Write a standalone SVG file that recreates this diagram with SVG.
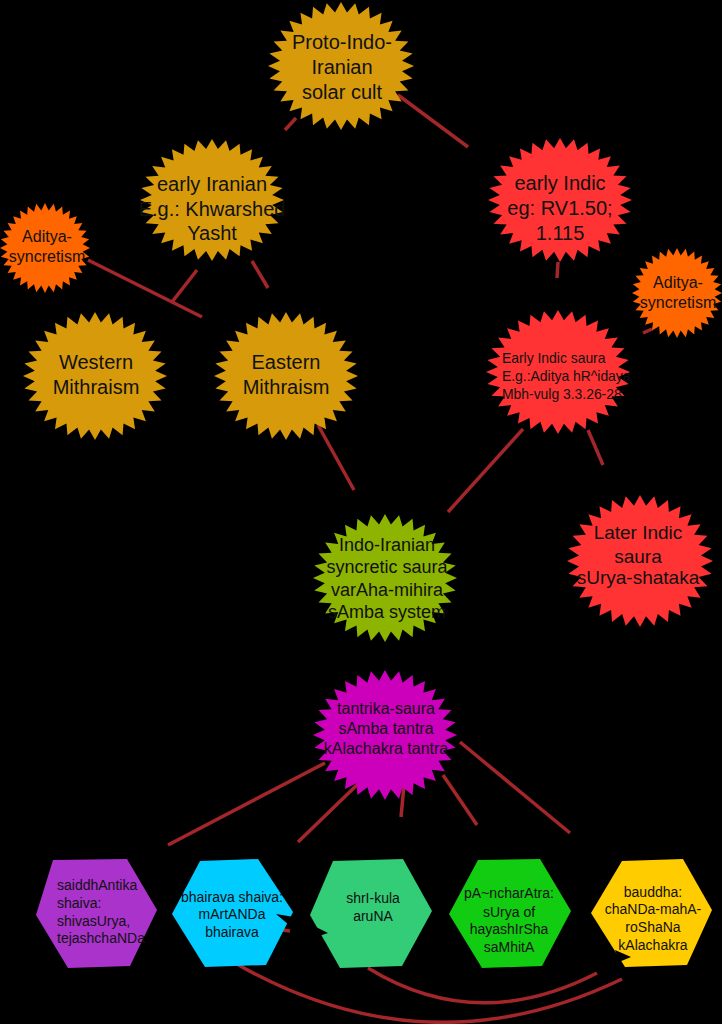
<svg xmlns="http://www.w3.org/2000/svg" xmlns:xlink="http://www.w3.org/1999/xlink" width="722" height="1024" viewBox="0 0 722 1024">
<style>
.t{font-family:"Liberation Sans",Arial,sans-serif;fill:#111;text-anchor:middle}
.l{text-anchor:start}
.c{stroke:#A3262A;stroke-width:3.5;fill:none;stroke-linecap:butt}
.gold{fill:#D69A0A}.red{fill:#FF3333}.org{fill:#FF6600}.olv{fill:#8CB400}.mag{fill:#CC00BB}
</style>
<defs>
<polygon id="star" points="100,0 83.6,8.2 98.1,19.5 80.4,24.4 92.4,38.3 74.1,39.6 83.1,55.6 64.9,53.3 70.7,70.7 53.3,64.9 55.6,83.1 39.6,74.1 38.3,92.4 24.4,80.4 19.5,98.1 8.2,83.6 0,100 -8.2,83.6 -19.5,98.1 -24.4,80.4 -38.3,92.4 -39.6,74.1 -55.6,83.1 -53.3,64.9 -70.7,70.7 -64.9,53.3 -83.1,55.6 -74.1,39.6 -92.4,38.3 -80.4,24.4 -98.1,19.5 -83.6,8.2 -100,0 -83.6,-8.2 -98.1,-19.5 -80.4,-24.4 -92.4,-38.3 -74.1,-39.6 -83.1,-55.6 -64.9,-53.3 -70.7,-70.7 -53.3,-64.9 -55.6,-83.1 -39.6,-74.1 -38.3,-92.4 -24.4,-80.4 -19.5,-98.1 -8.2,-83.6 0,-100 8.2,-83.6 19.5,-98.1 24.4,-80.4 38.3,-92.4 39.6,-74.1 55.6,-83.1 53.3,-64.9 70.7,-70.7 64.9,-53.3 83.1,-55.6 74.1,-39.6 92.4,-38.3 80.4,-24.4 98.1,-19.5 83.6,-8.2"/>
</defs>
<rect width="722" height="1024" fill="#000"/>
<g id="connectors">
<line class="c" x1="296" y1="118" x2="285" y2="130"/>
<line class="c" x1="398" y1="95" x2="468" y2="147"/>
<line class="c" x1="88" y1="260" x2="202" y2="317"/>
<line class="c" x1="197" y1="270" x2="172" y2="302"/>
<line class="c" x1="252" y1="261" x2="268" y2="288"/>
<line class="c" x1="558" y1="262" x2="557" y2="278"/>
<line class="c" x1="652" y1="329" x2="643" y2="333"/>
<line class="c" x1="318" y1="425" x2="354" y2="490"/>
<line class="c" x1="523" y1="429" x2="448" y2="512"/>
<line class="c" x1="588" y1="430" x2="603" y2="465"/>
<line class="c" x1="325" y1="763" x2="168" y2="845"/>
<line class="c" x1="360" y1="782" x2="298" y2="842"/>
<line class="c" x1="404" y1="785" x2="401" y2="817"/>
<line class="c" x1="443" y1="775" x2="477" y2="825"/>
<line class="c" x1="460" y1="742" x2="570" y2="833"/>
<line class="c" x1="283" y1="930" x2="290" y2="931"/>
<path class="c" d="M235,963 Q427,1073 622,979"/>
<path class="c" d="M368,968 Q477,1035 597,973"/>
</g>
<g id="proto"><use xlink:href="#star" href="#star" class="gold" transform="translate(341 66) scale(0.73 0.64)"/>
<text class="t" font-size="20"><tspan x="342" y="49">Proto-Indo-</tspan><tspan x="342" y="74">Iranian</tspan><tspan x="342" y="99">solar cult</tspan></text></g>
<g id="early-iranian"><use xlink:href="#star" href="#star" class="gold" transform="translate(212 200) scale(0.72 0.61)"/>
<text class="t" font-size="20"><tspan x="212" y="191">early Iranian</tspan><tspan x="212" y="216">E.g.: Khwarshed</tspan><tspan x="212" y="240">Yasht</tspan></text></g>
<g id="aditya-left"><use xlink:href="#star" href="#star" class="org" transform="translate(45 248) scale(0.45 0.45)"/>
<text class="t" font-size="16"><tspan x="47" y="242">Aditya-</tspan><tspan x="47" y="262">syncretism</tspan></text></g>
<g id="western"><use xlink:href="#star" href="#star" class="gold" transform="translate(95 376) scale(0.72 0.64)"/>
<text class="t" font-size="20"><tspan x="96" y="369">Western</tspan><tspan x="96" y="394">Mithraism</tspan></text></g>
<g id="eastern"><use xlink:href="#star" href="#star" class="gold" transform="translate(286 376) scale(0.72 0.64)"/>
<text class="t" font-size="20"><tspan x="286" y="369">Eastern</tspan><tspan x="286" y="394">Mithraism</tspan></text></g>
<g id="early-indic"><use xlink:href="#star" href="#star" class="red" transform="translate(560 200) scale(0.72 0.62)"/>
<text class="t" font-size="20"><tspan x="560" y="190">early Indic</tspan><tspan x="560" y="215">eg: RV1.50;</tspan><tspan x="560" y="240">1.115</tspan></text></g>
<g id="aditya-right"><use xlink:href="#star" href="#star" class="org" transform="translate(677 293) scale(0.45 0.45)"/>
<text class="t" font-size="16"><tspan x="678" y="288">Aditya-</tspan><tspan x="678" y="308">syncretism</tspan></text></g>
<g id="early-indic-saura"><use xlink:href="#star" href="#star" class="red" transform="translate(558 372) scale(0.72 0.62)"/>
<text class="t l" font-size="13.9"><tspan x="502" y="363">Early Indic saura</tspan><tspan x="502" y="381">E.g.:Aditya hR^idaya</tspan><tspan x="502" y="399">Mbh-vulg 3.3.26-28</tspan></text></g>
<g id="later-indic"><use xlink:href="#star" href="#star" class="red" transform="translate(640 561) scale(0.73 0.66)"/>
<text class="t" font-size="19"><tspan x="638" y="539">Later Indic</tspan><tspan x="638" y="563">saura</tspan><tspan x="638" y="584">sUrya-shataka</tspan></text></g>
<g id="indo-iranian"><use xlink:href="#star" href="#star" class="olv" transform="translate(385 578) scale(0.72 0.64)"/>
<text class="t" font-size="18"><tspan x="387" y="551">Indo-Iranian</tspan><tspan x="387" y="573">syncretic saura</tspan><tspan x="387" y="596">varAha-mihira</tspan><tspan x="387" y="618">sAmba system</tspan></text></g>
<g id="tantrika"><use xlink:href="#star" href="#star" class="mag" transform="translate(385 735) scale(0.72 0.65)"/>
<text class="t" font-size="16"><tspan x="386" y="714">tantrika-saura</tspan><tspan x="386" y="734">sAmba tantra</tspan><tspan x="386" y="754">kAlachakra tantra</tspan></text></g>
<g id="saiddhantika"><polygon fill="#AA33CC" points="53,860 127,859 157,910 130,966 68,968 36,915"/>
<text class="t l" font-size="14"><tspan x="57" y="890">saiddhAntika</tspan><tspan x="57" y="908">shaiva:</tspan><tspan x="57" y="926">shivasUrya,</tspan><tspan x="57" y="943">tejashchaNDa</tspan></text></g>
<g id="bhairava"><polygon fill="#00CCFF" points="200,861 258,859 293,912 266,965 205,967 172,914"/>
<text class="t" font-size="14"><tspan x="232" y="902">bhairava shaiva:</tspan><tspan x="232" y="919">mArtANDa</tspan><tspan x="232" y="937">bhairava</tspan></text></g>
<g id="shrikula"><polygon fill="#33CC77" points="333,861 403,859 432,911 402,966 340,968 310,915"/>
<text class="t" font-size="14"><tspan x="373" y="903">shrI-kula</tspan><tspan x="373" y="921">aruNA</tspan></text></g>
<g id="pancharatra"><polygon fill="#11CC11" points="478,860 540,859 571,911 542,966 482,968 449,914"/>
<text class="t" font-size="14"><tspan x="509" y="898">pA~ncharAtra:</tspan><tspan x="509" y="917">sUrya of</tspan><tspan x="509" y="934">hayashIrSha</tspan><tspan x="509" y="952">saMhitA</tspan></text></g>
<g id="bauddha"><polygon fill="#FFCC00" points="622,861 683,859 712,910 687,965 625,967 591,913"/>
<text class="t" font-size="14"><tspan x="653" y="897">bauddha:</tspan><tspan x="653" y="914">chaNDa-mahA-</tspan><tspan x="653" y="932">roShaNa</tspan><tspan x="653" y="950">kAlachakra</tspan></text></g>
<g id="arrowheads" fill="#000">
<polygon points="276,914 294,917 289,925"/>
<polygon points="314,926 328,933 316,937"/>
<polygon points="615,950 631,957 619,962"/>
</g>
</svg>
